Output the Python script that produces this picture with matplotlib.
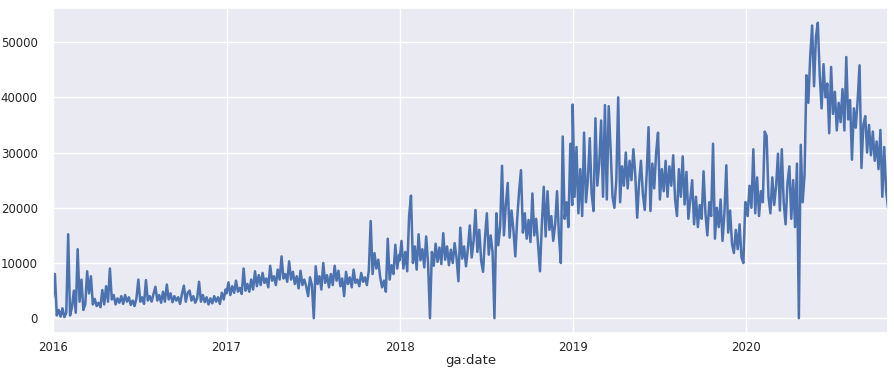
import matplotlib
matplotlib.use("Agg")
import matplotlib.pyplot as plt
import matplotlib.dates as mdates
import seaborn as sns
import pandas as pd
import numpy as np

# values in thousands, sampled every 4 days from Jan 1 of each year
y2016 = [3.8, 8.0, 0.5, 1.5, 0.3, 1.8, 0.2, 1.0, 15.2, 0.5,
         2.0, 5.0, 1.0, 12.5, 3.0, 7.0, 1.5, 2.5, 8.5, 4.5,
         7.6, 2.5, 3.5, 2.2, 2.8, 2.0, 5.1, 2.5, 5.8, 3.0,
         9.0, 3.4, 4.2, 2.5, 3.6, 2.8, 4.0, 2.6, 4.2, 3.0,
         3.8, 2.4, 3.2, 2.2, 3.6, 7.0, 3.0, 3.8, 2.6, 6.9,
         3.2, 4.0, 3.0, 4.4, 5.7, 3.2, 4.2, 2.8, 4.8, 3.0,
         6.1, 3.4, 4.5, 2.9, 4.0, 3.2, 3.8, 2.6, 4.4, 5.9,
         3.0, 4.6, 5.0, 3.2, 4.0, 2.8, 3.6, 6.6, 3.0, 4.2,
         2.9, 3.8, 2.5, 3.6, 2.7, 4.0, 3.0, 3.8, 2.6, 4.6,
         3.4, 5.2]
y2017 = [4.5, 6.5, 4.2, 5.8, 4.6, 6.8, 4.8, 5.5, 4.4, 9.0,
         5.0, 6.2, 4.8, 7.0, 5.2, 8.5, 5.8, 7.8, 6.0, 8.2,
         6.4, 7.2, 5.6, 9.5, 6.8, 7.6, 6.0, 8.8, 7.0, 11.2,
         7.2, 8.0, 6.6, 10.3, 7.0, 8.4, 6.2, 7.6, 5.4, 8.6,
         6.0, 7.0, 5.8, 4.0, 7.4, 6.0, 0.0, 9.4, 6.2, 7.6,
         5.2, 10.0, 6.4, 7.8, 5.6, 8.0, 6.0, 9.5, 6.8, 8.6,
         5.8, 7.2, 4.0, 8.4, 6.2, 7.4, 5.6, 8.8, 6.4, 7.0,
         5.8, 8.2, 6.6, 7.4, 6.0, 8.6, 17.6, 8.0, 11.8, 9.0,
         10.6, 7.4, 5.6, 6.8, 4.8, 14.4, 7.0, 9.6, 8.0, 13.3,
         9.0, 11.5]
y2018 = [10.5, 14.0, 9.0, 12.0, 8.5, 18.5, 22.2, 10.0, 13.0, 8.8,
         15.2, 10.5, 12.5, 9.2, 14.8, 10.0, 0.0, 12.0, 9.5, 13.5,
         10.2, 12.8, 9.8, 15.4, 10.6, 13.0, 9.6, 12.4, 10.0, 13.6,
         11.0, 6.7, 16.4, 10.8, 13.0, 9.4, 12.6, 16.8, 11.0, 14.0,
         19.6, 12.0, 16.0, 10.4, 8.4, 14.5, 19.0, 11.5, 15.0, 12.0,
         0.0, 19.0, 13.2, 16.5, 27.6, 15.0, 20.5, 24.5, 14.6, 19.5,
         16.0, 11.2, 18.0, 23.0, 26.8, 15.5, 19.0, 14.4, 17.8, 13.8,
         22.6, 15.0, 18.0, 13.4, 8.5, 17.0, 23.8, 14.8, 23.0, 16.0,
         18.5, 14.0, 17.0, 23.0, 15.0, 10.0, 32.9, 18.0, 21.0, 16.5,
         31.6, 20.5]
y2019 = [38.7, 22.0, 31.0, 19.0, 27.0, 18.5, 33.6, 21.0, 25.0, 32.6,
         22.5, 19.4, 36.2, 24.0, 28.0, 35.8, 22.0, 38.6, 21.5, 38.4,
         30.6, 22.0, 20.0, 25.0, 40.0, 21.0, 27.5, 24.0, 30.0, 23.5,
         28.5, 25.0, 30.6, 26.0, 18.2, 24.5, 28.5, 22.5, 19.6, 26.0,
         34.6, 19.4, 28.0, 23.5, 30.0, 33.6, 21.5, 27.0, 23.0, 28.5,
         22.0, 27.5, 24.0, 29.5, 21.5, 18.5, 27.0, 22.0, 29.3, 20.6,
         26.5, 18.0, 21.5, 25.0, 17.0, 22.0, 16.5, 20.5, 18.0, 26.6,
         19.0, 15.0, 21.0, 18.5, 31.6, 14.4, 20.0, 16.5, 21.5, 14.0,
         19.0, 27.7, 15.5, 19.5, 13.5, 11.8, 16.0, 12.5, 17.0, 11.0,
         10.0, 21.0]
y2020 = [21.0, 18.5, 24.0, 20.0, 30.6, 19.0, 25.5, 18.5, 23.0, 21.0,
         33.8, 33.0, 22.0, 19.0, 25.5, 20.5, 24.0, 29.8, 19.5, 30.6,
         21.0, 17.0, 24.5, 27.5, 18.0, 25.0, 16.5, 28.0, 0.0, 31.4,
         21.0, 26.0, 44.0, 39.0, 47.5, 53.0, 42.0, 51.0, 53.5, 44.0,
         38.0, 46.0, 40.0, 42.5, 33.5, 45.5, 37.0, 41.0, 34.0, 39.0,
         35.5, 41.5, 34.0, 47.3, 36.0, 39.5, 28.7, 38.0, 34.5, 39.5,
         45.8, 27.2, 35.0, 36.6, 30.0, 35.0, 29.5, 33.8, 28.5, 32.0,
         27.0, 34.1, 22.0, 31.0, 23.1, 20.0]

years = [2016, 2017, 2018, 2019, 2020]
series = [y2016, y2017, y2018, y2019, y2020]

dates = []
values = []
for yr, vals in zip(years, series):
    d = pd.date_range(f"{yr}-01-01", periods=len(vals), freq="4D")
    dates.extend(d)
    values.extend(np.array(vals) * 1000)

df = pd.DataFrame({"ga:date": dates, "ga:users": values}).set_index("ga:date")

sns.set_theme(style="darkgrid")
plt.rcParams["font.family"] = ["DejaVu Sans"]

fig = plt.figure(figsize=(8.95, 3.77), dpi=100)
ax = fig.add_axes([53 / 895, 1 - 333 / 377, (888 - 53) / 895, (333 - 8) / 377])
ax.plot(df.index, df["ga:users"], color="#4C72B0", linewidth=1.8)
ax.set_xlim(df.index[0], df.index[-1])
ax.xaxis.set_major_locator(mdates.YearLocator())
ax.xaxis.set_major_formatter(mdates.DateFormatter("%Y"))
ax.set_xlabel("ga:date", fontsize=9.5, labelpad=0)
ax.tick_params(axis="x", labelsize=8.5, pad=0)
ax.tick_params(axis="y", labelsize=8.5, pad=5)
ax.margins(y=0.05)

fig.savefig("out.png", dpi=100)
